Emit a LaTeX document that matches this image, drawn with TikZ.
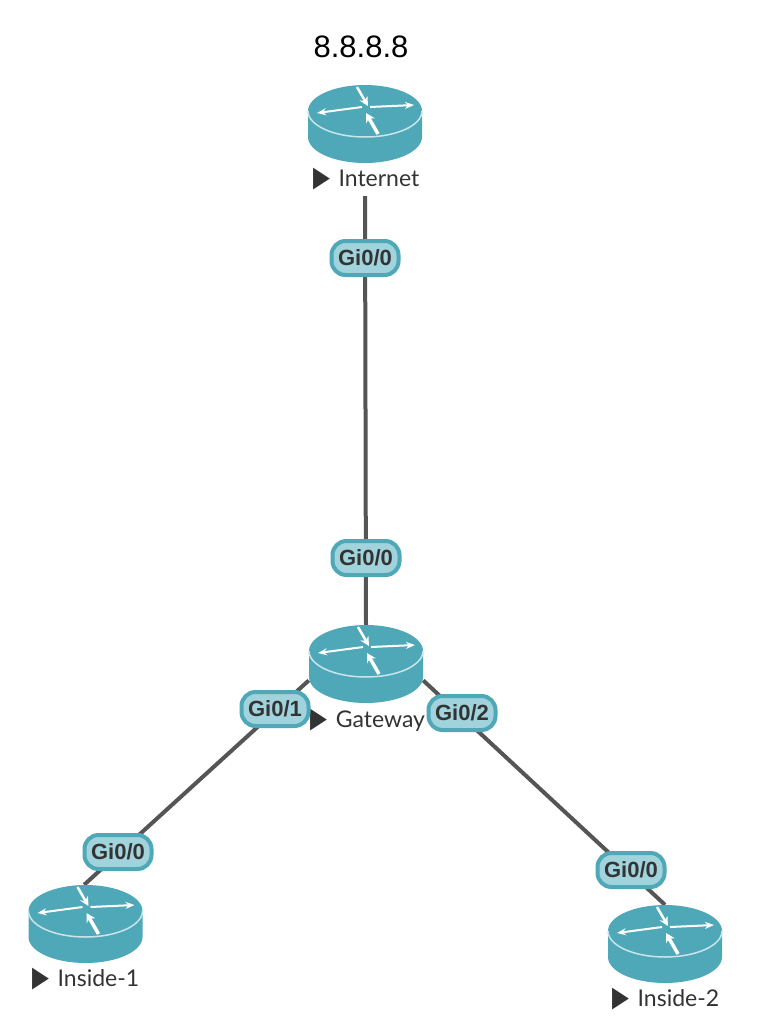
\documentclass[tikz,border=0pt]{standalone}
\usepackage{graphicx}
\usepackage{fontspec}
\setmainfont{Lato}
\newfontfamily\ipfont{Liberation Sans}
\newfontfamily\symfont{DejaVu Sans}
\usetikzlibrary{arrows.meta}
\definecolor{RouterTeal}{HTML}{4FA8B8}
\definecolor{PortFill}{HTML}{A0D3DC}
\definecolor{LinkGray}{HTML}{555555}
\definecolor{TextDark}{HTML}{333333}
\newcommand{\playmark}{\raisebox{0pt}{\scalebox{1}[1.3]{\symfont\fontsize{22pt}{22pt}\selectfont\char"25B6}}\hspace{8pt}}
\tikzset{
  routericon/.pic = {
    \fill[RouterTeal] (-57,-13) -- (-57,13) arc[start angle=180, end angle=360, x radius=57pt, y radius=26pt] -- (57,-13) -- cycle;
    \fill[RouterTeal] (0,-13) ellipse[x radius=57pt, y radius=26pt];
    \draw[white!70!RouterTeal, line width=1.5pt] (-57,-13) arc[start angle=180, end angle=360, x radius=57pt, y radius=26pt];
    \draw[white, line width=2.5pt, -{Stealth[length=9pt, width=9pt]}] (-8,-37) -- (3,-18);
    \draw[white, line width=2pt, -{Stealth[length=9pt, width=7pt]}] (-3,-17) -- (-48,-11);
    \draw[white, line width=2pt, -{Stealth[length=9pt, width=7pt]}] (5,-17) -- (49,-19);
    \draw[white, line width=3.5pt, -{Stealth[length=9pt, width=10pt]}] (13,10) -- (1,-11);
  }
}
\begin{document}
\begin{tikzpicture}[x=1pt, y=-1pt,
    router/.style = {minimum width=114pt, minimum height=78pt, inner sep=0pt},
    devname/.style = {text=TextDark, font=\fontsize{23pt}{23pt}\selectfont, minimum height=34pt, inner sep=0pt},
    port/.style = {draw=RouterTeal, fill=PortFill, line width=4pt, rounded corners=14pt, minimum width=67pt, minimum height=34pt, inner sep=0pt, text=TextDark, font=\ipfont\bfseries\fontsize{22pt}{22pt}\selectfont},
    link/.style = {draw=LinkGray, line width=4pt}]
  \useasboundingbox (0,0) rectangle (766,1018);
  \node[router] (internet) at (365,124) {};
  \node[router] (gateway) at (366,664) {};
  \node[router] (inside1) at (85.5,924) {};
  \node[router] (inside2) at (665,944) {};
  \node[devname] (internetname) at (366.5,179) {\playmark Internet};
  \node[devname] (gatewayname) at (368,720) {\playmark Gateway};
  \node[devname] (inside1name) at (86,979) {\playmark Inside-1};
  \node[devname] (inside2name) at (666,999) {\playmark Inside-2};
  \node[font=\ipfont\fontsize{31pt}{31pt}\selectfont] (address) at (361,47) {8.8.8.8};
  \draw[link] (internet |- internetname.south) -- (gateway.north);
  \draw[link] (gateway.196) -- (inside1.92);
  \draw[link] (gateway.-16) -- (inside2.90);
  \foreach \dev in {internet, gateway, inside1, inside2} {
    \pic at (\dev) {routericon};
  }
  \node[port] (p1) at (365,258) {Gi0/0};
  \node[port] (p2) at (366,558) {Gi0/0};
  \node[port] (p3) at (275,709) {Gi0/1};
  \node[port] (p4) at (462,713) {Gi0/2};
  \node[port] (p5) at (118,852) {Gi0/0};
  \node[port] (p6) at (631,870) {Gi0/0};
\end{tikzpicture}
\end{document}
